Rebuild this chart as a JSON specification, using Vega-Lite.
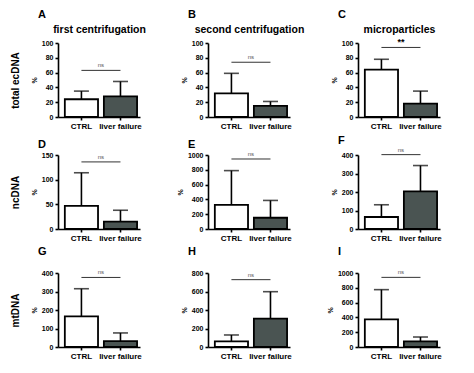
{
"$schema": "https://vega.github.io/schema/vega-lite/v6.json",
"padding": {"left": 10, "top": 9, "right": 4, "bottom": 2},
"datasets": {
"bars": [
{"panel":"A","group":"CTRL","mean":24,"upper":35,"line":63,"label":"ns"},
{"panel":"A","group":"liver failure","mean":28,"upper":48,"line":63,"label":"ns"},
{"panel":"B","group":"CTRL","mean":32,"upper":59,"line":74,"label":"ns"},
{"panel":"B","group":"liver failure","mean":15,"upper":21,"line":74,"label":"ns"},
{"panel":"C","group":"CTRL","mean":64,"upper":78,"line":94,"label":"**"},
{"panel":"C","group":"liver failure","mean":18,"upper":35,"line":94,"label":"**"},
{"panel":"D","group":"CTRL","mean":47,"upper":114,"line":136,"label":"ns"},
{"panel":"D","group":"liver failure","mean":15,"upper":38,"line":136,"label":"ns"},
{"panel":"E","group":"CTRL","mean":327,"upper":789,"line":946,"label":"ns"},
{"panel":"E","group":"liver failure","mean":152,"upper":386,"line":946,"label":"ns"},
{"panel":"F","group":"CTRL","mean":65,"upper":131,"line":402,"label":"ns"},
{"panel":"F","group":"liver failure","mean":203,"upper":343,"line":402,"label":"ns"},
{"panel":"G","group":"CTRL","mean":166,"upper":315,"line":376,"label":"ns"},
{"panel":"G","group":"liver failure","mean":32,"upper":76,"line":376,"label":"ns"},
{"panel":"H","group":"CTRL","mean":61,"upper":130,"line":728,"label":"ns"},
{"panel":"H","group":"liver failure","mean":306,"upper":598,"line":728,"label":"ns"},
{"panel":"I","group":"CTRL","mean":374,"upper":775,"line":941,"label":"ns"},
{"panel":"I","group":"liver failure","mean":77,"upper":135,"line":941,"label":"ns"}
]
},
"data": {"name": "bars"},
"spacing": 4,
"vconcat": [
{"hconcat": [
 {"width": 82, "height": 74, "title": "A", "transform": [{"filter": "datum.panel == 'A'"}],
  "resolve": {"axis": {"x": "independent", "y": "independent"}},
  "layer": [
   {"mark": {"type": "rule", "color": "#000", "strokeWidth": 1.6}, "encoding": {"x": {"field": "group", "type": "nominal", "sort": ["CTRL","liver failure"], "axis": null}, "y": {"field": "mean", "type": "quantitative", "scale": {"domain": [0,100], "nice": false}, "axis": null}, "y2": {"field": "upper"}}},
   {"mark": {"type": "tick", "color": "#000", "thickness": 1.6, "size": 15}, "encoding": {"x": {"field": "group", "type": "nominal", "sort": ["CTRL","liver failure"], "axis": null}, "y": {"field": "upper", "type": "quantitative", "axis": null}}},
   {"mark": {"type": "bar", "stroke": "#000", "strokeWidth": 1.8}, "encoding": {"x": {"field": "group", "type": "nominal", "sort": ["CTRL","liver failure"], "title": null, "scale": {"align": 0.7}}, "y": {"field": "mean", "type": "quantitative", "axis": {"values": [0,20,40,60,80,100], "title": "%", "format": "d"}}, "fill": {"field": "group", "type": "nominal", "scale": {"domain": ["CTRL","liver failure"], "range": ["#ffffff","#4a5452"]}, "legend": null}}},
   {"transform": [{"filter": "datum.group == 'CTRL'"}], "mark": {"type": "rule", "color": "#333", "strokeWidth": 1}, "encoding": {"x": {"datum": "CTRL", "type": "nominal", "axis": {"orient": "top", "title": "first centrifugation", "labels": false, "ticks": false, "domain": false, "titleFontSize": 10.5, "titleFontWeight": "bold", "titlePadding": 9}}, "x2": {"datum": "liver failure"}, "y": {"field": "line", "type": "quantitative", "axis": {"orient": "left", "title": "total ecDNA", "labels": false, "ticks": false, "domain": false, "titleFontSize": 10, "titleFontWeight": "bold", "titlePadding": 38}}}},
   {"transform": [{"filter": "datum.group == 'CTRL'"}], "mark": {"type": "text", "baseline": "bottom", "dx": 19.5, "dy": -2, "fontSize": 6, "color": "#555"}, "encoding": {"x": {"datum": "CTRL", "type": "nominal", "axis": null}, "y": {"field": "line", "type": "quantitative", "axis": null}, "text": {"field": "label"}}}
  ]},
 {"width": 82, "height": 74, "title": "B", "transform": [{"filter": "datum.panel == 'B'"}],
  "resolve": {"axis": {"x": "independent", "y": "independent"}},
  "layer": [
   {"mark": {"type": "rule", "color": "#000", "strokeWidth": 1.6}, "encoding": {"x": {"field": "group", "type": "nominal", "sort": ["CTRL","liver failure"], "axis": null}, "y": {"field": "mean", "type": "quantitative", "scale": {"domain": [0,100], "nice": false}, "axis": null}, "y2": {"field": "upper"}}},
   {"mark": {"type": "tick", "color": "#000", "thickness": 1.6, "size": 15}, "encoding": {"x": {"field": "group", "type": "nominal", "sort": ["CTRL","liver failure"], "axis": null}, "y": {"field": "upper", "type": "quantitative", "axis": null}}},
   {"mark": {"type": "bar", "stroke": "#000", "strokeWidth": 1.8}, "encoding": {"x": {"field": "group", "type": "nominal", "sort": ["CTRL","liver failure"], "title": null, "scale": {"align": 0.7}}, "y": {"field": "mean", "type": "quantitative", "axis": {"values": [0,20,40,60,80,100], "title": "%", "format": "d"}}, "fill": {"field": "group", "type": "nominal", "scale": {"domain": ["CTRL","liver failure"], "range": ["#ffffff","#4a5452"]}, "legend": null}}},
   {"transform": [{"filter": "datum.group == 'CTRL'"}], "mark": {"type": "rule", "color": "#333", "strokeWidth": 1}, "encoding": {"x": {"datum": "CTRL", "type": "nominal", "axis": {"orient": "top", "title": "second centrifugation", "labels": false, "ticks": false, "domain": false, "titleFontSize": 10.5, "titleFontWeight": "bold", "titlePadding": 9}}, "x2": {"datum": "liver failure"}, "y": {"field": "line", "type": "quantitative", "axis": null}}},
   {"transform": [{"filter": "datum.group == 'CTRL'"}], "mark": {"type": "text", "baseline": "bottom", "dx": 19.5, "dy": -2, "fontSize": 6, "color": "#555"}, "encoding": {"x": {"datum": "CTRL", "type": "nominal", "axis": null}, "y": {"field": "line", "type": "quantitative", "axis": null}, "text": {"field": "label"}}}
  ]},
 {"width": 82, "height": 74, "title": "C", "transform": [{"filter": "datum.panel == 'C'"}],
  "resolve": {"axis": {"x": "independent", "y": "independent"}},
  "layer": [
   {"mark": {"type": "rule", "color": "#000", "strokeWidth": 1.6}, "encoding": {"x": {"field": "group", "type": "nominal", "sort": ["CTRL","liver failure"], "axis": null}, "y": {"field": "mean", "type": "quantitative", "scale": {"domain": [0,100], "nice": false}, "axis": null}, "y2": {"field": "upper"}}},
   {"mark": {"type": "tick", "color": "#000", "thickness": 1.6, "size": 15}, "encoding": {"x": {"field": "group", "type": "nominal", "sort": ["CTRL","liver failure"], "axis": null}, "y": {"field": "upper", "type": "quantitative", "axis": null}}},
   {"mark": {"type": "bar", "stroke": "#000", "strokeWidth": 1.8}, "encoding": {"x": {"field": "group", "type": "nominal", "sort": ["CTRL","liver failure"], "title": null, "scale": {"align": 0.7}}, "y": {"field": "mean", "type": "quantitative", "axis": {"values": [0,20,40,60,80,100], "title": "%", "format": "d"}}, "fill": {"field": "group", "type": "nominal", "scale": {"domain": ["CTRL","liver failure"], "range": ["#ffffff","#4a5452"]}, "legend": null}}},
   {"transform": [{"filter": "datum.group == 'CTRL'"}], "mark": {"type": "rule", "color": "#333", "strokeWidth": 1}, "encoding": {"x": {"datum": "CTRL", "type": "nominal", "axis": {"orient": "top", "title": "microparticles", "labels": false, "ticks": false, "domain": false, "titleFontSize": 10.5, "titleFontWeight": "bold", "titlePadding": 9}}, "x2": {"datum": "liver failure"}, "y": {"field": "line", "type": "quantitative", "axis": null}}},
   {"transform": [{"filter": "datum.group == 'CTRL'"}], "mark": {"type": "text", "baseline": "bottom", "dx": 19.5, "dy": 0, "fontSize": 9, "fontWeight": "bold", "color": "#000"}, "encoding": {"x": {"datum": "CTRL", "type": "nominal", "axis": null}, "y": {"field": "line", "type": "quantitative", "axis": null}, "text": {"field": "label"}}}
  ]}
 ],
 "spacing": 68,
 "bounds": "flush"
},
{"hconcat": [
 {"width": 82, "height": 74, "title": {"text": "D", "offset": 1}, "transform": [{"filter": "datum.panel == 'D'"}],
  "resolve": {"axis": {"x": "independent", "y": "independent"}},
  "layer": [
   {"mark": {"type": "rule", "color": "#000", "strokeWidth": 1.6}, "encoding": {"x": {"field": "group", "type": "nominal", "sort": ["CTRL","liver failure"], "axis": null}, "y": {"field": "mean", "type": "quantitative", "scale": {"domain": [0,150], "nice": false}, "axis": null}, "y2": {"field": "upper"}}},
   {"mark": {"type": "tick", "color": "#000", "thickness": 1.6, "size": 15}, "encoding": {"x": {"field": "group", "type": "nominal", "sort": ["CTRL","liver failure"], "axis": null}, "y": {"field": "upper", "type": "quantitative", "axis": null}}},
   {"mark": {"type": "bar", "stroke": "#000", "strokeWidth": 1.8}, "encoding": {"x": {"field": "group", "type": "nominal", "sort": ["CTRL","liver failure"], "title": null, "scale": {"align": 0.7}}, "y": {"field": "mean", "type": "quantitative", "axis": {"values": [0,50,100,150], "title": "%", "format": "d"}}, "fill": {"field": "group", "type": "nominal", "scale": {"domain": ["CTRL","liver failure"], "range": ["#ffffff","#4a5452"]}, "legend": null}}},
   {"transform": [{"filter": "datum.group == 'CTRL'"}], "mark": {"type": "rule", "color": "#333", "strokeWidth": 1}, "encoding": {"x": {"datum": "CTRL", "type": "nominal", "axis": null}, "x2": {"datum": "liver failure"}, "y": {"field": "line", "type": "quantitative", "axis": {"orient": "left", "title": "ncDNA", "labels": false, "ticks": false, "domain": false, "titleFontSize": 10, "titleFontWeight": "bold", "titlePadding": 38}}}},
   {"transform": [{"filter": "datum.group == 'CTRL'"}], "mark": {"type": "text", "baseline": "bottom", "dx": 19.5, "dy": -2, "fontSize": 6, "color": "#555"}, "encoding": {"x": {"datum": "CTRL", "type": "nominal", "axis": null}, "y": {"field": "line", "type": "quantitative", "axis": null}, "text": {"field": "label"}}}
  ]},
 {"width": 82, "height": 74, "title": {"text": "E", "offset": 1}, "transform": [{"filter": "datum.panel == 'E'"}],
  "resolve": {"axis": {"x": "independent", "y": "independent"}},
  "layer": [
   {"mark": {"type": "rule", "color": "#000", "strokeWidth": 1.6}, "encoding": {"x": {"field": "group", "type": "nominal", "sort": ["CTRL","liver failure"], "axis": null}, "y": {"field": "mean", "type": "quantitative", "scale": {"domain": [0,1000], "nice": false}, "axis": null}, "y2": {"field": "upper"}}},
   {"mark": {"type": "tick", "color": "#000", "thickness": 1.6, "size": 15}, "encoding": {"x": {"field": "group", "type": "nominal", "sort": ["CTRL","liver failure"], "axis": null}, "y": {"field": "upper", "type": "quantitative", "axis": null}}},
   {"mark": {"type": "bar", "stroke": "#000", "strokeWidth": 1.8}, "encoding": {"x": {"field": "group", "type": "nominal", "sort": ["CTRL","liver failure"], "title": null, "scale": {"align": 0.7}}, "y": {"field": "mean", "type": "quantitative", "axis": {"values": [0,200,400,600,800,1000], "title": "%", "format": "d"}}, "fill": {"field": "group", "type": "nominal", "scale": {"domain": ["CTRL","liver failure"], "range": ["#ffffff","#4a5452"]}, "legend": null}}},
   {"transform": [{"filter": "datum.group == 'CTRL'"}], "mark": {"type": "rule", "color": "#333", "strokeWidth": 1}, "encoding": {"x": {"datum": "CTRL", "type": "nominal", "axis": null}, "x2": {"datum": "liver failure"}, "y": {"field": "line", "type": "quantitative", "axis": null}}},
   {"transform": [{"filter": "datum.group == 'CTRL'"}], "mark": {"type": "text", "baseline": "bottom", "dx": 19.5, "dy": -2, "fontSize": 6, "color": "#555"}, "encoding": {"x": {"datum": "CTRL", "type": "nominal", "axis": null}, "y": {"field": "line", "type": "quantitative", "axis": null}, "text": {"field": "label"}}}
  ]},
 {"width": 82, "height": 74, "title": {"text": "F", "offset": 1}, "transform": [{"filter": "datum.panel == 'F'"}],
  "resolve": {"axis": {"x": "independent", "y": "independent"}},
  "layer": [
   {"mark": {"type": "rule", "color": "#000", "strokeWidth": 1.6}, "encoding": {"x": {"field": "group", "type": "nominal", "sort": ["CTRL","liver failure"], "axis": null}, "y": {"field": "mean", "type": "quantitative", "scale": {"domain": [0,400], "nice": false}, "axis": null}, "y2": {"field": "upper"}}},
   {"mark": {"type": "tick", "color": "#000", "thickness": 1.6, "size": 15}, "encoding": {"x": {"field": "group", "type": "nominal", "sort": ["CTRL","liver failure"], "axis": null}, "y": {"field": "upper", "type": "quantitative", "axis": null}}},
   {"mark": {"type": "bar", "stroke": "#000", "strokeWidth": 1.8}, "encoding": {"x": {"field": "group", "type": "nominal", "sort": ["CTRL","liver failure"], "title": null, "scale": {"align": 0.7}}, "y": {"field": "mean", "type": "quantitative", "axis": {"values": [0,100,200,300,400], "title": "%", "format": "d"}}, "fill": {"field": "group", "type": "nominal", "scale": {"domain": ["CTRL","liver failure"], "range": ["#ffffff","#4a5452"]}, "legend": null}}},
   {"transform": [{"filter": "datum.group == 'CTRL'"}], "mark": {"type": "rule", "color": "#333", "strokeWidth": 1}, "encoding": {"x": {"datum": "CTRL", "type": "nominal", "axis": null}, "x2": {"datum": "liver failure"}, "y": {"field": "line", "type": "quantitative", "axis": null}}},
   {"transform": [{"filter": "datum.group == 'CTRL'"}], "mark": {"type": "text", "baseline": "bottom", "dx": 19.5, "dy": -2, "fontSize": 6, "color": "#555"}, "encoding": {"x": {"datum": "CTRL", "type": "nominal", "axis": null}, "y": {"field": "line", "type": "quantitative", "axis": null}, "text": {"field": "label"}}}
  ]}
 ],
 "spacing": 68,
 "bounds": "flush"
},
{"hconcat": [
 {"width": 82, "height": 74, "title": {"text": "G", "offset": 12}, "transform": [{"filter": "datum.panel == 'G'"}],
  "resolve": {"axis": {"x": "independent", "y": "independent"}},
  "layer": [
   {"mark": {"type": "rule", "color": "#000", "strokeWidth": 1.6}, "encoding": {"x": {"field": "group", "type": "nominal", "sort": ["CTRL","liver failure"], "axis": null}, "y": {"field": "mean", "type": "quantitative", "scale": {"domain": [0,400], "nice": false}, "axis": null}, "y2": {"field": "upper"}}},
   {"mark": {"type": "tick", "color": "#000", "thickness": 1.6, "size": 15}, "encoding": {"x": {"field": "group", "type": "nominal", "sort": ["CTRL","liver failure"], "axis": null}, "y": {"field": "upper", "type": "quantitative", "axis": null}}},
   {"mark": {"type": "bar", "stroke": "#000", "strokeWidth": 1.8}, "encoding": {"x": {"field": "group", "type": "nominal", "sort": ["CTRL","liver failure"], "title": null, "scale": {"align": 0.7}}, "y": {"field": "mean", "type": "quantitative", "axis": {"values": [0,100,200,300,400], "title": "%", "format": "d"}}, "fill": {"field": "group", "type": "nominal", "scale": {"domain": ["CTRL","liver failure"], "range": ["#ffffff","#4a5452"]}, "legend": null}}},
   {"transform": [{"filter": "datum.group == 'CTRL'"}], "mark": {"type": "rule", "color": "#333", "strokeWidth": 1}, "encoding": {"x": {"datum": "CTRL", "type": "nominal", "axis": null}, "x2": {"datum": "liver failure"}, "y": {"field": "line", "type": "quantitative", "axis": {"orient": "left", "title": "mtDNA", "labels": false, "ticks": false, "domain": false, "titleFontSize": 10, "titleFontWeight": "bold", "titlePadding": 38}}}},
   {"transform": [{"filter": "datum.group == 'CTRL'"}], "mark": {"type": "text", "baseline": "bottom", "dx": 19.5, "dy": -2, "fontSize": 6, "color": "#555"}, "encoding": {"x": {"datum": "CTRL", "type": "nominal", "axis": null}, "y": {"field": "line", "type": "quantitative", "axis": null}, "text": {"field": "label"}}}
  ]},
 {"width": 82, "height": 74, "title": {"text": "H", "offset": 12}, "transform": [{"filter": "datum.panel == 'H'"}],
  "resolve": {"axis": {"x": "independent", "y": "independent"}},
  "layer": [
   {"mark": {"type": "rule", "color": "#000", "strokeWidth": 1.6}, "encoding": {"x": {"field": "group", "type": "nominal", "sort": ["CTRL","liver failure"], "axis": null}, "y": {"field": "mean", "type": "quantitative", "scale": {"domain": [0,800], "nice": false}, "axis": null}, "y2": {"field": "upper"}}},
   {"mark": {"type": "tick", "color": "#000", "thickness": 1.6, "size": 15}, "encoding": {"x": {"field": "group", "type": "nominal", "sort": ["CTRL","liver failure"], "axis": null}, "y": {"field": "upper", "type": "quantitative", "axis": null}}},
   {"mark": {"type": "bar", "stroke": "#000", "strokeWidth": 1.8}, "encoding": {"x": {"field": "group", "type": "nominal", "sort": ["CTRL","liver failure"], "title": null, "scale": {"align": 0.7}}, "y": {"field": "mean", "type": "quantitative", "axis": {"values": [0,200,400,600,800], "title": "%", "format": "d"}}, "fill": {"field": "group", "type": "nominal", "scale": {"domain": ["CTRL","liver failure"], "range": ["#ffffff","#4a5452"]}, "legend": null}}},
   {"transform": [{"filter": "datum.group == 'CTRL'"}], "mark": {"type": "rule", "color": "#333", "strokeWidth": 1}, "encoding": {"x": {"datum": "CTRL", "type": "nominal", "axis": null}, "x2": {"datum": "liver failure"}, "y": {"field": "line", "type": "quantitative", "axis": null}}},
   {"transform": [{"filter": "datum.group == 'CTRL'"}], "mark": {"type": "text", "baseline": "bottom", "dx": 19.5, "dy": -2, "fontSize": 6, "color": "#555"}, "encoding": {"x": {"datum": "CTRL", "type": "nominal", "axis": null}, "y": {"field": "line", "type": "quantitative", "axis": null}, "text": {"field": "label"}}}
  ]},
 {"width": 82, "height": 74, "title": {"text": "I", "offset": 12}, "transform": [{"filter": "datum.panel == 'I'"}],
  "resolve": {"axis": {"x": "independent", "y": "independent"}},
  "layer": [
   {"mark": {"type": "rule", "color": "#000", "strokeWidth": 1.6}, "encoding": {"x": {"field": "group", "type": "nominal", "sort": ["CTRL","liver failure"], "axis": null}, "y": {"field": "mean", "type": "quantitative", "scale": {"domain": [0,1000], "nice": false}, "axis": null}, "y2": {"field": "upper"}}},
   {"mark": {"type": "tick", "color": "#000", "thickness": 1.6, "size": 15}, "encoding": {"x": {"field": "group", "type": "nominal", "sort": ["CTRL","liver failure"], "axis": null}, "y": {"field": "upper", "type": "quantitative", "axis": null}}},
   {"mark": {"type": "bar", "stroke": "#000", "strokeWidth": 1.8}, "encoding": {"x": {"field": "group", "type": "nominal", "sort": ["CTRL","liver failure"], "title": null, "scale": {"align": 0.7}}, "y": {"field": "mean", "type": "quantitative", "axis": {"values": [0,200,400,600,800,1000], "title": "%", "format": "d"}}, "fill": {"field": "group", "type": "nominal", "scale": {"domain": ["CTRL","liver failure"], "range": ["#ffffff","#4a5452"]}, "legend": null}}},
   {"transform": [{"filter": "datum.group == 'CTRL'"}], "mark": {"type": "rule", "color": "#333", "strokeWidth": 1}, "encoding": {"x": {"datum": "CTRL", "type": "nominal", "axis": null}, "x2": {"datum": "liver failure"}, "y": {"field": "line", "type": "quantitative", "axis": null}}},
   {"transform": [{"filter": "datum.group == 'CTRL'"}], "mark": {"type": "text", "baseline": "bottom", "dx": 19.5, "dy": -2, "fontSize": 6, "color": "#555"}, "encoding": {"x": {"datum": "CTRL", "type": "nominal", "axis": null}, "y": {"field": "line", "type": "quantitative", "axis": null}, "text": {"field": "label"}}}
  ]}
 ],
 "spacing": 68,
 "bounds": "flush"
}
],
"config": {
 "view": {"stroke": null},
 "font": "Liberation Sans",
 "axis": {"grid": false, "domainColor": "#000", "tickColor": "#000", "domainWidth": 1.6, "tickWidth": 1.6, "tickSize": 3, "labelColor": "#000", "labelFontWeight": "bold", "labelPadding": 2, "titleColor": "#000"},
 "axisX": {"labelAngle": 0, "labelFontSize": 8},
 "axisY": {"labelFontSize": 7, "titleFontSize": 7, "titleFontWeight": "bold", "titlePadding": 4},
 "scale": {"bandPaddingInner": 0.15, "bandPaddingOuter": 0.125},
 "title": {"anchor": "start", "frame": "group", "fontSize": 11, "fontWeight": "bold", "dx": -20, "offset": 4, "color": "#000"}
}
}
